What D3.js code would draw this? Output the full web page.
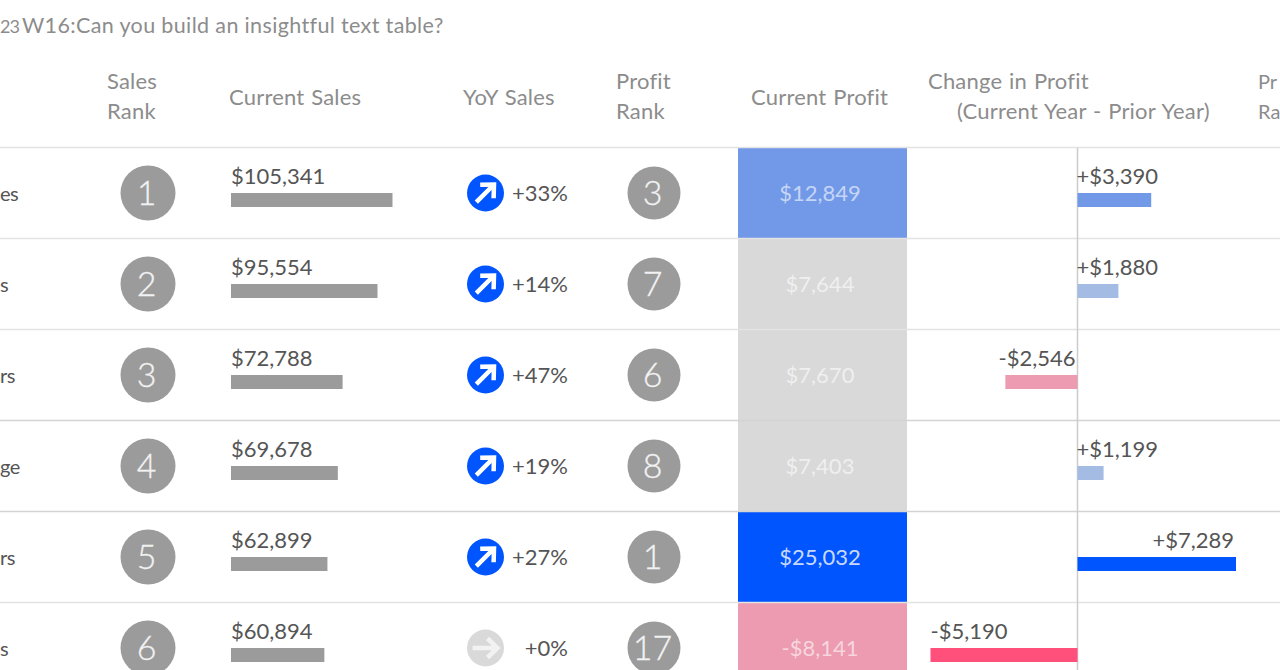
<!DOCTYPE html>
<html>
<head>
<meta charset="utf-8">
<script src="https://cdn.jsdelivr.net/npm/d3@7/dist/d3.min.js"></script>
<style>
  html, body { margin: 0; padding: 0; background: #fff; overflow: hidden; }
  svg { display: block; }
  text { font-family: Lato, "Open Sans", sans-serif; }
  .head { fill: #8c8c8c; font-size: 22px; letter-spacing: 0.2px; word-spacing: 1px; }
  .headEdge { fill: #8c8c8c; font-size: 20px; }
  .val { fill: #555; font-size: 22px; }
  .tail { fill: #555; font-size: 20px; letter-spacing: -0.5px; }
</style>
</head>
<body>
<div id="chart"></div>
<script>
// Values. Names and two headers are cut by the frame,
// so only the part that can be read is kept.
var nameTails = ["es", "s", "rs", "ge", "rs", "s"];
var salesRank = [1, 2, 3, 4, 5, 6];
var currentSales = [105341, 95554, 72788, 69678, 62899, 60894];
var yoySales = [33, 14, 47, 19, 27, 0];
var profitRank = [3, 7, 6, 8, 1, 17];
var currentProfit = [12849, 7644, 7670, 7403, 25032, -8141];
var changeProfit = [3390, 1880, -2546, 1199, 7289, -5190];

var svgWidth = 1280;
var svgHeight = 670;

var svg = d3.select("#chart")
  .append("svg")
  .attr("width", svgWidth)
  .attr("height", svgHeight);

// one band per row
var yScale = d3.scaleBand()
  .domain(salesRank)
  .range([147.5, 147.5 + 91 * salesRank.length]);

var salesScale = d3.scaleLinear()
  .domain([0, d3.max(currentSales)])
  .range([231, 392.5]);

// negative side of the change column runs on its own scale in the original
var changeScale = d3.scaleLinear()
  .domain([d3.min(changeProfit), 0, d3.max(changeProfit)])
  .range([930.5, 1077.5, 1236]);

var profitColor = d3.scaleThreshold()
  .domain([0, 10000, 20000])
  .range(["#ec9bb0", "#d9d9d9", "#7299e8", "#0055ff"]);

var changeColor = d3.scaleThreshold()
  .domain([-4000, 0, 2000, 5000])
  .range(["#ff4f7b", "#ec9bb0", "#a4bbe4", "#7299e8", "#0055ff"]);

var rows = salesRank.map((d, i) => ({
  name: nameTails[i],
  salesRank: d,
  sales: currentSales[i],
  yoy: yoySales[i],
  profitRank: profitRank[i],
  profit: currentProfit[i],
  change: changeProfit[i]
}));

var money = d3.format("$,");
var mid = d => yScale(d.salesRank) + yScale.bandwidth() / 2;

// title, first digits squeezed so they stay in the frame
var title = svg.append("text")
  .attr("y", 33)
  .attr("fill", "#8c8c8c")
  .style("font-size", "21.5px");

title.append("tspan")
  .attr("x", 0)
  .style("font-size", "18px")
  .style("letter-spacing", "-1px")
  .text("23 ");

title.append("tspan")
  .attr("x", 22)
  .style("letter-spacing", "0.36px")
  .text("W16:Can you build an insightful text table?");

var headers = [
  ["Sales", 107, 89], ["Rank", 107, 119],
  ["Current Sales", 229, 105],
  ["YoY Sales", 463, 105],
  ["Profit", 616, 89], ["Rank", 616, 119],
  ["Current Profit", 751, 105],
  ["Change in Profit", 928, 89], ["(Current Year - Prior Year)", 957, 119]
];

svg.selectAll(".head")
  .data(headers)
  .enter()
  .append("text")
  .classed("head", true)
  .attr("x", d => d[1])
  .attr("y", d => d[2])
  .text(d => d[0]);

// last header, pulled in so it stays in the frame
svg.selectAll(".headEdge")
  .data([["Pr", 89], ["Ra", 119]])
  .enter()
  .append("text")
  .classed("headEdge", true)
  .attr("x", 1258)
  .attr("y", d => d[1])
  .text(d => d[0]);

// profit heat cells sit under the row lines
svg.selectAll(".cell")
  .data(rows)
  .enter()
  .append("rect")
  .classed("cell", true)
  .attr("x", 738)
  .attr("y", d => yScale(d.salesRank))
  .attr("width", 169)
  .attr("height", yScale.bandwidth())
  .attr("fill", d => profitColor(d.profit));

// row lines
svg.selectAll(".rowLine")
  .data(rows)
  .enter()
  .append("line")
  .classed("rowLine", true)
  .attr("x1", 0)
  .attr("x2", svgWidth)
  .attr("y1", d => yScale(d.salesRank))
  .attr("y2", d => yScale(d.salesRank))
  .attr("stroke", (d, i) => (i === 3 || i === 4) ? "#d4d4d4" : "#e3e3e3")
  .attr("stroke-width", 1.5);

// zero line of the change column
svg.append("line")
  .attr("x1", changeScale(0))
  .attr("x2", changeScale(0))
  .attr("y1", 148)
  .attr("y2", svgHeight)
  .attr("stroke", "#cccccc")
  .attr("stroke-width", 1.5);

var rowGroup = svg.selectAll(".row")
  .data(rows)
  .enter()
  .append("g")
  .classed("row", true);

// what is left of the sub-category names at the left edge
rowGroup.append("text")
  .classed("tail", true)
  .attr("x", 0)
  .attr("y", d => mid(d) + 8)
  .text(d => d.name);

// rank bubbles
function drawRank(cx, r, key) {
  rowGroup.append("circle")
    .attr("cx", cx)
    .attr("cy", mid)
    .attr("r", r)
    .attr("fill", "#9b9b9b");
  rowGroup.append("text")
    .attr("x", cx - 1.5)
    .attr("y", d => mid(d) + 12)
    .attr("text-anchor", "middle")
    .attr("fill", "#f2f2f2")
    .attr("stroke", "#f2f2f2")
    .attr("stroke-width", 0.3)
    .style("font-size", "34px")
    .style("font-weight", 300)
    .text(d => d[key]);
}
drawRank(148, 27.5, "salesRank");
drawRank(654, 26.5, "profitRank");

// current sales
rowGroup.append("text")
  .classed("val", true)
  .attr("x", 231)
  .attr("y", d => mid(d) - 9.5)
  .text(d => money(d.sales));

rowGroup.append("rect")
  .attr("x", salesScale(0))
  .attr("y", d => mid(d))
  .attr("width", d => salesScale(d.sales) - salesScale(0))
  .attr("height", 14)
  .attr("fill", "#9b9b9b");

// yoy arrow icons
var icon = rowGroup.append("g")
  .attr("transform", d => `translate(485.5, ${mid(d)})`);

icon.append("circle")
  .attr("r", 18.5)
  .attr("fill", d => d.yoy > 0 ? "#0055ff" : "#d9d9d9");

icon.append("path")
  .attr("d", "M-13,0H12M2,-9.5L12,0L2,9.5")
  .attr("fill", "none")
  .attr("stroke", d => d.yoy > 0 ? "#fff" : "#f2f2f2")
  .attr("stroke-width", 4.5)
  .attr("transform", d => d.yoy > 0 ? "rotate(-45)" : null);

rowGroup.append("text")
  .classed("val", true)
  .attr("x", 568)
  .attr("y", d => mid(d) + 8)
  .attr("text-anchor", "end")
  .text(d => "+" + d.yoy + "%");

// current profit label
rowGroup.append("text")
  .attr("x", 820)
  .attr("y", d => mid(d) + 8)
  .attr("text-anchor", "middle")
  .attr("fill", "#fff")
  .attr("fill-opacity", d => d.profit > 20000 ? 0.8 : 0.6)
  .style("font-size", "22px")
  .text(d => (d.profit < 0 ? "-" : "") + money(Math.abs(d.profit)));

// change in profit bars
rowGroup.append("rect")
  .attr("x", d => Math.min(changeScale(0), changeScale(d.change)))
  .attr("y", d => mid(d))
  .attr("width", d => Math.abs(changeScale(d.change) - changeScale(0)))
  .attr("height", 14)
  .attr("fill", d => changeColor(d.change));

// label sits at the far end of the bar unless the bar is shorter than the label
rowGroup.append("text")
  .classed("val", true)
  .text(d => (d.change < 0 ? "-" : "+") + money(Math.abs(d.change)))
  .each(function(d) {
    var barW = Math.abs(changeScale(d.change) - changeScale(0));
    var fits = this.getComputedTextLength() < barW;
    var anchor, x;
    if (d.change > 0) {
      anchor = fits ? "end" : "start";
      x = fits ? changeScale(d.change) - 2 : changeScale(0) - 1;
    } else {
      anchor = fits ? "start" : "end";
      x = fits ? changeScale(d.change) : changeScale(0) - 2;
    }
    d3.select(this)
      .attr("x", x)
      .attr("y", mid(d) - 9.5)
      .attr("text-anchor", anchor);
  });
</script>
</body>
</html>
